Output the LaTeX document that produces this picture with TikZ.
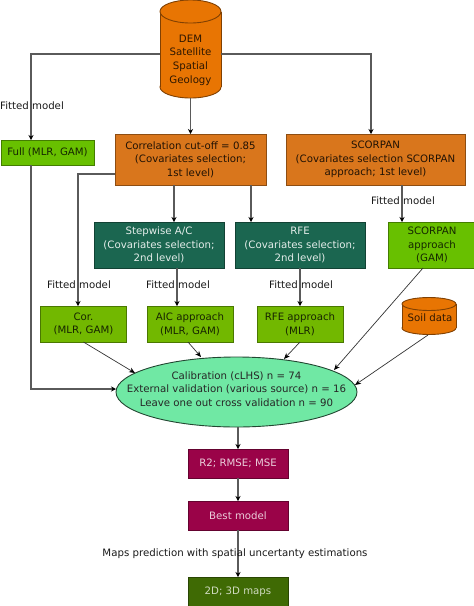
\documentclass[tikz,border=0pt]{standalone}
\usepackage{fontspec}
\setmainfont{DejaVu Sans}
\usetikzlibrary{shapes.geometric,arrows.meta,calc}
\definecolor{orA}{HTML}{E87503}
\definecolor{orB}{HTML}{D9761C}
\definecolor{teal}{HTML}{1B6650}
\definecolor{lgA}{HTML}{68C000}
\definecolor{lgB}{HTML}{72B800}
\definecolor{mint}{HTML}{70E8A4}
\definecolor{crim}{HTML}{9A0348}
\definecolor{olv}{HTML}{3F6A04}
\definecolor{ln}{HTML}{5A5A5A}
\tikzset{
 x=1pt,y=-1pt,
 every node/.style={font=\fontsize{10.2}{13.6}\selectfont,align=center,inner sep=0pt,outer sep=0pt},
 box/.style={rectangle,draw=#1!65!black,line width=0.9pt},
 orbox/.style={box=orB,fill=orB,text=black!85!orB},
 tealbox/.style={box=teal,fill=teal,text=white!88!teal},
 greenA/.style={box=lgA,fill=lgA,text=black!80!lgA},
 greenB/.style={box=lgB,fill=lgB,text=black!80!lgB},
 crimbox/.style={box=crim,fill=crim,text=white!80!crim},
 olvbox/.style={box=olv,fill=olv,text=white!75!olv},
 canedge/.style={draw=orA!55!black,line width=0.9pt,fill=orA},
 cantext/.style={text=black!80!orA},
 conn/.style={draw=ln,line width=1.05pt,-{Stealth[length=5pt,width=5pt,color=black]}},
 diag/.style={draw=black!80,line width=0.7pt,-{Stealth[length=6pt,width=5pt,color=black]}},
 lab/.style={text=black!90},
}
\begin{document}
\begin{tikzpicture}
\useasboundingbox (0,0) rectangle (474,606);
\clip (0,0) rectangle (474,606);
% DEM cylinder
\path[canedge] (190.5,87) ellipse [x radius=30.5pt,y radius=11pt];
\fill[orA] (160,11.5) rectangle (221,87);
\draw[canedge,fill=none] (160,11.5) -- (160,87) (221,11.5) -- (221,87);
\path[canedge] (190.5,11.5) ellipse [x radius=30.5pt,y radius=11.5pt];
\node[cantext] (dem) at (190.5,60) {DEM\\Satellite\\Spatial\\Geology};
\coordinate (demL) at (160,54);
\coordinate (demR) at (221,54);
\coordinate (demB) at (190.5,98);
% Soil cylinder
\path[canedge] (429,328) ellipse [x radius=27pt,y radius=6.5pt];
\fill[orA] (402,304) rectangle (456,328);
\draw[canedge,fill=none] (402,304) -- (402,328) (456,304) -- (456,328);
\path[canedge] (429,304) ellipse [x radius=27pt,y radius=6.5pt];
\node[cantext] (soil) at (430,317.5) {Soil data};
\coordinate (soilB) at (428,335);
% boxes
\node[orbox,minimum width=151,minimum height=51] (corr) at (190.5,159.5) {Correlation cut-off = 0.85\\(Covariates selection;\\1st level)};
\node[orbox,minimum width=179,minimum height=51] (scorpan) at (375.5,159.5) {SCORPAN\\(Covariates selection SCORPAN\\approach; 1st level)};
\node[greenA,minimum width=93,minimum height=25] (full) at (47.5,152.5) {Full (MLR, GAM)};
\node[tealbox,minimum width=130,minimum height=46] (step) at (159,245) {Stepwise A/C\\(Covariates selection;\\2nd level)};
\node[tealbox,minimum width=130,minimum height=46] (rfe) at (300,245) {RFE\\(Covariates selection;\\2nd level)};
\node[greenA,minimum width=88,minimum height=46] (scapp) at (432,245) {SCORPAN\\approach\\(GAM)};
\node[greenB,minimum width=86,minimum height=36] (cor) at (83.5,324) {Cor.\\(MLR, GAM)};
\node[greenB,minimum width=86,minimum height=36] (aic) at (190,324) {AIC approach\\(MLR, GAM)};
\node[greenB,minimum width=86,minimum height=36] (rfeapp) at (300,324) {RFE approach\\(MLR)};
\node[ellipse,draw=black!70!mint,line width=0.9pt,fill=mint,minimum width=241,minimum height=70] (cal) at (236.5,392) {};
\node[text=black!85] (caltxt) at (236.5,389) {Calibration (cLHS) n = 74\\External validation (various source) n = 16\\Leave one out cross validation n = 90};
\node[crimbox,minimum width=100,minimum height=29] (r2) at (238,463.5) {R2; RMSE; MSE};
\node[crimbox,minimum width=100,minimum height=29] (best) at (238,515.5) {Best model};
\node[olvbox,minimum width=100,minimum height=29] (maps) at (238,591.5) {2D; 3D maps};
% connectors
\draw[conn] (demL) -| ([xshift=-16.5]full.north);
\draw[conn] (demR) -| ([xshift=-4.5]scorpan.north);
\draw[conn] (demB) -- (corr.north);
\draw[conn] ([xshift=-16.5]full.south) |- ([yshift=3]cal.west);
\draw[conn] ([yshift=-14.5]corr.west) -| ([xshift=-5.5]cor.north);
\draw[conn] ([xshift=-16.5]corr.south) -- ([xshift=15]step.north);
\draw[conn] ([xshift=60.5]corr.south) -- ([xshift=-49]rfe.north);
\draw[conn] ([xshift=26.5]scorpan.south) -- ([xshift=-30]scapp.north);
\draw[conn] ([xshift=18]step.south) -- ([xshift=-13]aic.north);
\draw[conn] (rfe.south) -- (rfeapp.north);
\draw[diag] (cor.south) -- ([xshift=-101.5,yshift=19]cal.center);
\draw[diag] ([xshift=-2]aic.south) -- ([xshift=-35.5,yshift=35]cal.center);
\draw[diag] (rfeapp.south) -- ([xshift=47.5,yshift=33]cal.center);
\draw[diag] ([xshift=-9]scapp.south) -- ([xshift=97.5,yshift=22]cal.center);
\draw[diag] (soilB) -- ([xshift=118.5,yshift=7]cal.center);
\draw[conn] (cal.south -| r2.north) -- (r2.north);
\draw[conn] (r2) -- (best);
\draw[conn] (best) -- (maps);
% labels
\node[lab] (l1) at (32,105.5) {Fitted model};
\node[lab] (l2) at (403,201) {Fitted model};
\node[lab] (l3) at (79,285) {Fitted model};
\node[lab] (l4) at (178,285) {Fitted model};
\node[lab] (l5) at (301,285) {Fitted model};
\node[lab] (l6) at (235,553.5) {Maps prediction with spatial uncertanty estimations};
\end{tikzpicture}
\end{document}
